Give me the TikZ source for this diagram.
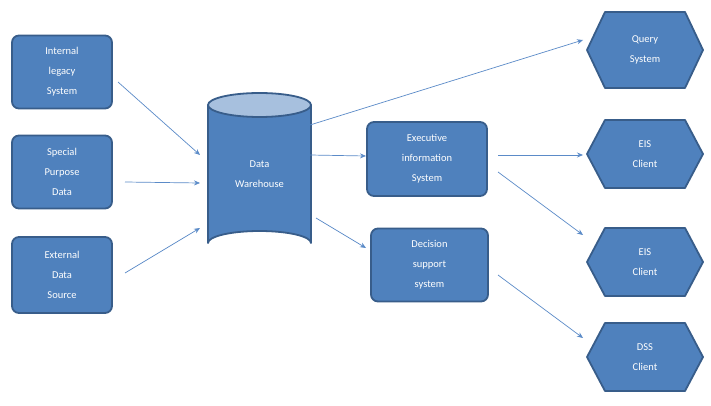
\documentclass[tikz,border=0pt]{standalone}
\usepackage{fontspec}
\setmainfont{Carlito}
\usetikzlibrary{arrows.meta}
\begin{document}
\begin{tikzpicture}[x=1pt,y=-1pt,
  box/.style={draw=bd,fill=bf,line width=1.8pt,rounded corners=7pt,text=white,align=center,font=\fontsize{10.5}{20}\selectfont,inner sep=0pt},
  lbl/.style={text=white,align=center,font=\fontsize{10.5}{20}\selectfont,inner sep=0pt},
  hex/.style={draw=bd,fill=bf,line width=1.8pt,line join=round},
  arr/.style={draw=ln,line width=0.7pt,-{Stealth[length=6pt,width=5pt]}}]
\definecolor{bf}{HTML}{4F81BD}
\definecolor{bd}{HTML}{385D8A}
\definecolor{ln}{HTML}{5B8BC8}
\definecolor{top}{HTML}{A7C0DE}
\fill[white] (0,0) rectangle (711,406);
\useasboundingbox (0,0) rectangle (711,406);
% left boxes
\node[box,minimum width=100,minimum height=73] (int) at (62,72) {Internal\\legacy\\System};
\node[box,minimum width=100,minimum height=73] (spd) at (62,172) {Special\\Purpose\\Data};
\node[box,minimum width=100,minimum height=76] (ext) at (62,275) {External\\Data\\Source};
% cylinder
\draw[hex,fill=bf] (208,105) -- (208,243) arc[start angle=180,end angle=360,x radius=51.5,y radius=12] -- (311,105);
\draw[hex,fill=top] (259.5,105) ellipse[x radius=51.5,y radius=12];
\node[lbl] (dw) at (259.5,174) {Data\\Warehouse};
% middle boxes
\node[box,minimum width=120,minimum height=74] (eis) at (427,159) {Executive\\information\\System};
\node[box,minimum width=117,minimum height=73] (dss) at (429.5,265) {Decision\\support\\system};
% hexagons
\foreach \n/\y/\h/\t in {q/50/38/{Query\\System}, e1/154/34/{EIS\\Client}, e2/262/34/{EIS\\Client}, d/357/34/{DSS\\Client}}{
  \draw[hex] (587,\y) -- (605,\y-\h) -- (685,\y-\h) -- (703,\y) -- (685,\y+\h) -- (605,\y+\h) -- cycle;
  \node[lbl] (\n) at (645,\y) {\t};
}
% arrow endpoints
\coordinate (a1) at (118,82); \coordinate (b1) at (200,155);
\coordinate (a2) at (125,182); \coordinate (b2) at (200,183);
\coordinate (a3) at (125,273); \coordinate (b3) at (200,228);
\coordinate (a4) at (310,125); \coordinate (b4) at (583,40);
\coordinate (a5) at (310,155); \coordinate (b5) at (366,156);
\coordinate (a6) at (316,218); \coordinate (b6) at (366,248);
\coordinate (a7) at (498,155); \coordinate (b7) at (583,155);
\coordinate (a8) at (498,172); \coordinate (b8) at (583,235);
\coordinate (a9) at (498,275); \coordinate (b9) at (583,338);
\foreach \i in {1,...,9}{\draw[arr] (a\i) -- (b\i);}
\end{tikzpicture}
\end{document}
